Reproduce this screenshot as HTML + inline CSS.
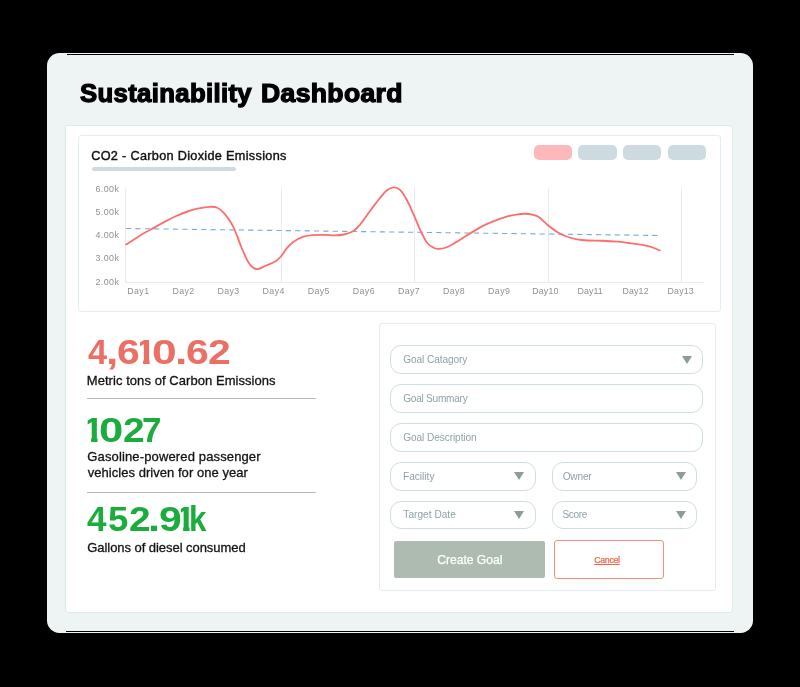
<!DOCTYPE html>
<html lang="en"><head><meta charset="utf-8"><title>Sustainability Dashboard</title>
<style>
*{box-sizing:border-box;margin:0;padding:0}
html,body{width:800px;height:687px;background:#000;overflow:hidden}
body{position:relative;font-family:"Liberation Sans",sans-serif;color:#111}
.abs{position:absolute}
.t{position:absolute;white-space:nowrap;line-height:1}
#card{left:47px;top:53px;width:706px;height:580px;background:#eef3f3;border-radius:12.5px}
#panel{left:65px;top:125px;width:668px;height:488px;background:#fff;border:1px solid #dde9ea;border-radius:3px}
#chart{left:78px;top:135px;width:643px;height:177px;background:#fff;border:1px solid #e3eded;border-radius:3px}
#form{left:379px;top:323px;width:337px;height:268px;background:#fff;border:1px solid #e3eded;border-radius:3px}
#title{font-size:25px;font-weight:bold;color:#000;-webkit-text-stroke:1.25px #000;letter-spacing:0.35px;position:absolute;left:0;top:0}
#ctitle{font-size:12.7px;color:#111;-webkit-text-stroke:0.4px #111}
.pill{position:absolute;top:145px;height:14.5px;width:38.4px;border-radius:5px;background:#cddbe0}
.inp{position:absolute;height:28.7px;border:1px solid #cfdfe1;border-radius:11px;background:#fff}
.ph{position:absolute;white-space:nowrap;line-height:1;color:#8fa2a7;font-size:10.1px}
.tri{position:absolute;width:0;height:0;border-left:5.2px solid transparent;border-right:5.2px solid transparent;border-top:8.8px solid #8d9b9d}
.cap{position:absolute;white-space:nowrap;line-height:1;color:#131313;font-size:13px;-webkit-text-stroke:0.3px #131313}
.big{position:absolute;left:0;white-space:nowrap;line-height:1;font-weight:bold}
.big span{position:absolute;top:0;transform-origin:0 0}
.hr{position:absolute;left:87.2px;width:229.3px;height:1.2px;background:#b9b9b9}
.yl{position:absolute;white-space:nowrap;line-height:1;color:#909090;font-size:8.9px;left:95.5px;letter-spacing:0.42px}
.xl{position:absolute;white-space:nowrap;line-height:1;color:#909090;font-size:8.8px;top:287px}
</style></head><body>
<div class="abs" id="card"></div>
<div class="abs" style="left:66.5px;top:54px;width:667px;height:1px;background:#000"></div>
<div class="abs" style="left:66px;top:631px;width:668px;height:1px;background:#000"></div>
<h1 id="title"><span class="t" id="title1" style="left:80.38px;top:81.1px;transform:scaleX(1.0271);transform-origin:0 0;">Sustainability</span> <span class="t" id="title2" style="left:261.4px;top:81.1px;transform:scaleX(1.0609);transform-origin:0 0;">Dashboard</span></h1>
<div class="abs" id="panel"></div>
<div class="abs" id="chart"></div>
<div class="t" id="ctitle" style="left:91.18px;top:150.2px;letter-spacing:0.313px;">CO2 - Carbon Dioxide Emissions</div>
<div class="abs" style="left:92px;top:167px;width:143.5px;height:4px;border-radius:2px;background:#cddbe0"></div>
<div class="pill" style="left:533.8px;background:#fdb9b9"></div>
<div class="pill" style="left:578.4px"></div>
<div class="pill" style="left:623px"></div>
<div class="pill" style="left:667.6px"></div>
<svg class="abs" style="left:0;top:0" width="800" height="687" viewBox="0 0 800 687">
<g stroke="#e8eaeb" stroke-width="1" fill="none">
<path d="M125.5 188.5V282.5"/><path d="M281.5 188.5V282"/><path d="M414.5 188.5V282"/><path d="M548.5 188.5V282"/><path d="M681.5 188.5V282"/>
<path d="M125 282.5H704"/>
</g>
<path d="M126 228.5L659.3 235.5" stroke="#76acd4" stroke-width="1.1" stroke-dasharray="5.2 4.2" fill="none"/>
<path d="M126.30 244.60 C129.00 242.83 137.93 236.78 142.50 234.00 C147.07 231.22 150.00 229.97 153.75 227.90 C157.50 225.83 161.25 223.58 165.00 221.60 C168.75 219.62 172.50 217.68 176.25 216.00 C180.00 214.32 183.75 212.77 187.50 211.50 C191.25 210.23 195.00 209.18 198.75 208.40 C202.50 207.62 207.00 206.95 210.00 206.80 C213.00 206.65 214.50 206.53 216.75 207.50 C219.00 208.47 221.25 210.25 223.50 212.60 C225.75 214.95 228.38 218.70 230.25 221.60 C232.12 224.50 232.88 225.68 234.75 230.00 C236.62 234.32 239.25 242.15 241.50 247.50 C243.75 252.85 246.38 258.80 248.25 262.10 C250.12 265.40 251.18 266.13 252.75 267.30 C254.32 268.47 255.45 269.40 257.70 269.10 C259.95 268.80 263.32 266.77 266.25 265.50 C269.18 264.23 272.81 263.00 275.25 261.50 C277.69 260.00 279.02 258.65 280.90 256.50 C282.77 254.35 284.44 251.03 286.50 248.60 C288.56 246.17 290.42 243.88 293.25 241.90 C296.08 239.92 300.29 237.83 303.50 236.70 C306.71 235.57 309.12 235.40 312.50 235.10 C315.88 234.80 320.00 234.85 323.75 234.90 C327.50 234.95 331.62 235.47 335.00 235.40 C338.38 235.33 341.00 235.18 344.00 234.50 C347.00 233.82 350.38 232.88 353.00 231.30 C355.62 229.72 357.50 227.55 359.75 225.00 C362.00 222.45 364.25 219.07 366.50 216.00 C368.75 212.93 371.00 209.60 373.25 206.60 C375.50 203.60 377.75 200.67 380.00 198.00 C382.25 195.33 384.50 192.37 386.75 190.60 C389.00 188.83 391.25 187.48 393.50 187.40 C395.75 187.32 398.00 187.96 400.25 190.10 C402.50 192.24 404.75 196.12 407.00 200.25 C409.25 204.38 411.50 209.84 413.75 214.90 C416.00 219.96 418.25 225.92 420.50 230.60 C422.75 235.28 425.00 240.10 427.25 243.00 C429.50 245.90 431.94 247.02 434.00 248.00 C436.06 248.98 437.35 249.07 439.60 248.90 C441.85 248.73 444.68 248.17 447.50 247.00 C450.32 245.83 453.50 243.69 456.50 241.90 C459.50 240.11 461.17 238.88 465.50 236.25 C469.83 233.62 477.79 228.61 482.50 226.10 C487.21 223.59 490.00 222.70 493.75 221.20 C497.50 219.70 501.25 218.20 505.00 217.10 C508.75 216.00 512.88 215.16 516.25 214.60 C519.62 214.04 522.46 213.70 525.25 213.75 C528.04 213.80 530.75 214.34 533.00 214.90 C535.25 215.46 536.29 215.42 538.75 217.10 C541.21 218.78 544.75 222.56 547.75 225.00 C550.75 227.44 553.75 229.88 556.75 231.75 C559.75 233.62 562.38 234.97 565.75 236.25 C569.12 237.53 573.25 238.69 577.00 239.40 C580.75 240.11 584.12 240.28 588.25 240.50 C592.38 240.72 596.88 240.56 601.75 240.75 C606.62 240.94 613.00 241.28 617.50 241.65 C622.00 242.03 624.88 242.51 628.75 243.00 C632.62 243.49 637.04 243.97 640.75 244.60 C644.46 245.23 647.84 245.82 651.00 246.80 C654.16 247.78 658.25 249.88 659.70 250.50" stroke="#fb6f6f" stroke-width="1.85" fill="none" stroke-linecap="round" stroke-linejoin="round"/>
</svg>
<div class="yl" style="top:184.6px">6.00k</div>
<div class="yl" style="top:207.5px">5.00k</div>
<div class="yl" style="top:231.0px">4.00k</div>
<div class="yl" style="top:254.3px">3.00k</div>
<div class="yl" style="top:277.6px">2.00k</div>
<div class="xl" style="left:127.3px;letter-spacing:0.4px">Day1</div>
<div class="xl" style="left:172.4px;letter-spacing:0.4px">Day2</div>
<div class="xl" style="left:217.5px;letter-spacing:0.4px">Day3</div>
<div class="xl" style="left:262.6px;letter-spacing:0.4px">Day4</div>
<div class="xl" style="left:307.7px;letter-spacing:0.4px">Day5</div>
<div class="xl" style="left:352.8px;letter-spacing:0.4px">Day6</div>
<div class="xl" style="left:397.9px;letter-spacing:0.4px">Day7</div>
<div class="xl" style="left:443.0px;letter-spacing:0.4px">Day8</div>
<div class="xl" style="left:488.1px;letter-spacing:0.4px">Day9</div>
<div class="xl" style="left:532.3px;letter-spacing:0.15px">Day10</div>
<div class="xl" style="left:577.4px;letter-spacing:0.15px">Day11</div>
<div class="xl" style="left:622.5px;letter-spacing:0.15px">Day12</div>
<div class="xl" style="left:667.6px;letter-spacing:0.15px">Day13</div>
<div class="big" id="n1" style="top:333.75px;font-size:35.2px;color:#ec6f66"><span style="left:87.58px;transform:scaleX(0.977)">4</span><span style="left:106.38px;transform:scaleX(1.26)">,</span><span style="left:117.17px;transform:scaleX(1.165)">6</span><span style="left:135.36px;transform:scaleX(1.08);clip-path:polygon(4.53px 0,13.50px 0,13.50px 100%,7.50px 100%,7.50px 50%,4.53px 50%)">1</span><span style="left:151.76px;transform:scaleX(1.26)">0</span><span style="left:174.88px;transform:scaleX(1.26)">.</span><span style="left:185.57px;transform:scaleX(1.165)">6</span><span style="left:208.16px;transform:scaleX(1.164)">2</span></div>
<div class="cap" id="c1" style="left:86.76px;top:373.9px;letter-spacing:0.058px;">Metric tons of Carbon Emissions</div>
<div class="hr" style="top:397.65px"></div>
<div class="big" id="n2" style="top:412.6px;font-size:34.6px;color:#1aac3c"><span style="left:82.86px;transform:scaleX(1.08);clip-path:polygon(4.20px 0,13.50px 0,13.50px 100%,7.50px 100%,7.50px 50%,4.20px 50%)">1</span><span style="left:98.67px;transform:scaleX(1.26)">0</span><span style="left:122.92px;transform:scaleX(1.127)">2</span><span style="left:142.09px;transform:scaleX(1.012)">7</span></div>
<div class="cap" id="c2a" style="left:87.3px;top:449.8px;letter-spacing:0.138px;">Gasoline-powered passenger</div>
<div class="cap" id="c2b" style="left:87.67px;top:466.0px;letter-spacing:0.044px;">vehicles driven for one year</div>
<div class="hr" style="top:491.9px"></div>
<div class="big" id="n3" style="top:502.4px;font-size:34.3px;color:#1aac3c"><span style="left:87.21px;transform:scaleX(1.022)">4</span><span style="left:107.87px;transform:scaleX(1.068)">5</span><span style="left:128.63px;transform:scaleX(1.135)">2</span><span style="left:148.3px;transform:scaleX(1.26)">.</span><span style="left:158.51px;transform:scaleX(1.188)">9</span><span style="left:174.76px;transform:scaleX(1.08);clip-path:polygon(5.41px 0,13.50px 0,13.50px 100%,7.50px 100%,7.50px 50%,5.41px 50%)">1</span><span style="left:188.7px;transform:scaleX(0.915)">k</span></div>
<div class="cap" id="c3" style="left:87.3px;top:540.9px;letter-spacing:-0.055px;">Gallons of diesel consumed</div>
<div class="abs" id="form"></div>
<div class="inp" style="left:390px;top:345px;width:313px"></div>
<div class="inp" style="left:390px;top:384.2px;width:313px"></div>
<div class="inp" style="left:390px;top:423.3px;width:313px"></div>
<div class="inp" style="left:390px;top:462.2px;width:145.6px"></div>
<div class="inp" style="left:552px;top:462.2px;width:145.3px"></div>
<div class="inp" style="left:390px;top:500.8px;width:145.6px"></div>
<div class="inp" style="left:552px;top:500.8px;width:145.3px"></div>
<div class="ph" id="p1" style="left:403.25px;top:354.9px;letter-spacing:-0.08px;">Goal Catagory</div>
<div class="ph" id="p2" style="left:403.25px;top:394.1px;letter-spacing:-0.257px;">Goal Summary</div>
<div class="ph" id="p3" style="left:403.25px;top:433.2px;letter-spacing:-0.079px;">Goal Description</div>
<div class="ph" id="p4" style="left:402.97px;top:471.8px;letter-spacing:0.017px;">Facility</div>
<div class="ph" id="p5" style="left:562.67px;top:471.8px;letter-spacing:-0.168px;">Owner</div>
<div class="ph" id="p6" style="left:403.36px;top:510.2px;letter-spacing:0.024px;">Target Date</div>
<div class="ph" id="p7" style="left:562.44px;top:510.2px;letter-spacing:-0.38px;">Score</div>
<div class="tri" style="left:682.15px;top:355.5px"></div>
<div class="tri" style="left:514.40px;top:472.2px"></div>
<div class="tri" style="left:676.40px;top:472.4px"></div>
<div class="tri" style="left:514.40px;top:510.9px"></div>
<div class="tri" style="left:676.40px;top:510.9px"></div>
<div class="abs" id="create" style="left:394.2px;top:541px;width:151px;height:37.2px;background:#aebbb0;border-radius:2px"></div>
<div class="t" id="createt" style="left:437.31px;top:554.2px;letter-spacing:-0.063px;font-size:12.2px;color:#fff;-webkit-text-stroke:0.25px #fff;">Create Goal</div>
<div class="abs" id="cancel" style="left:553.8px;top:540px;width:110px;height:38.8px;border:1px solid #f58e7d;border-radius:3px;background:#fff"></div>
<div class="t" id="cancelt" style="left:594.22px;top:555.6px;letter-spacing:-0.323px;font-size:8.8px;color:#f2664f;text-decoration:underline;-webkit-text-stroke:0.25px #f2664f;">Cancel</div>
</body></html>
